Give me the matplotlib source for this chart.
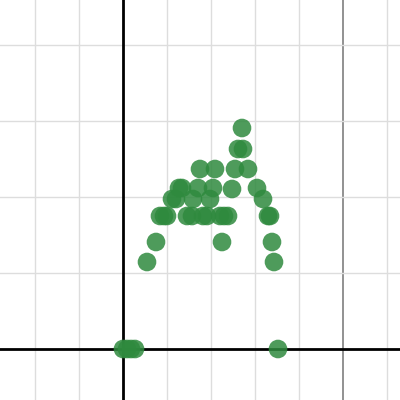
import matplotlib
matplotlib.use("Agg")
import matplotlib.pyplot as plt
import numpy as np

px = [147,156,160,164,167,172,176,179,182,187,192,193,198,200,203,207,210,213,215,220,224,228,222,232,235,238,243,242,248,257,263,268,270,272,274,278,123,127,131,135]
py = [262,242,216,216,216,199,199,188,188,216,216,199,188,169,216,216,199,188,169,216,216,216,242,189,169,149,149,128,169,188,199,216,216,242,262,349,349,349,349,349]
xs = [(p-123)/44 for p in px]
ys = [(349-p)/76 for p in py]

fig = plt.figure(figsize=(4,4), dpi=100)
ax = fig.add_axes([0,0,1,1])
ax.set_xlim(-123/44, 277/44)
ax.set_ylim(-51/76, 349/76)
for x in np.arange(-2, 7):
    if x == 0: continue
    ax.axvline(x, color='#7f7f7f' if x == 5 else '#dddddd', lw=1.2 if x==5 else 1, zorder=0)
for y in np.arange(1, 5):
    ax.axhline(y, color='#dddddd', lw=1, zorder=0)
ax.axhline(0, color='black', lw=2, zorder=1)
ax.axvline(0, color='black', lw=2, zorder=1)
ax.scatter(xs, ys, s=180, color='#2f8a3e', alpha=0.85, edgecolors='none', zorder=3)
ax.axis('off')
fig.savefig('out.png')
